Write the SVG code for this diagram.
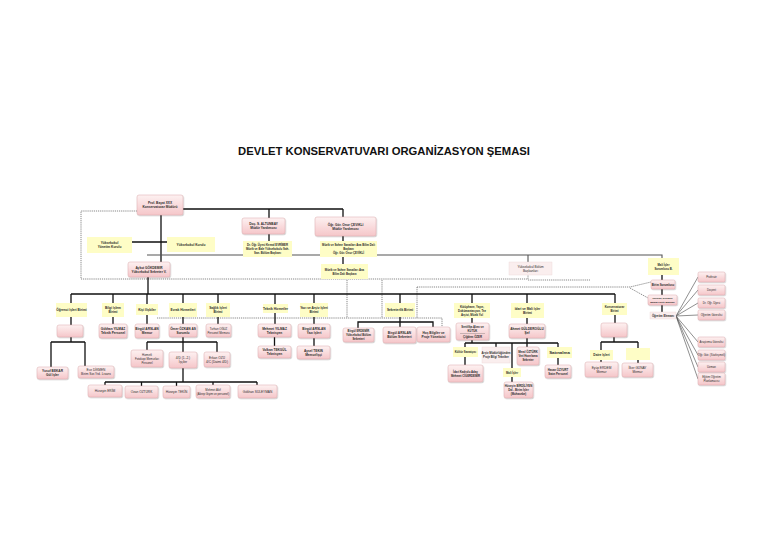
<svg xmlns="http://www.w3.org/2000/svg" width="768" height="543" viewBox="0 0 768 543">
<style>
.t{font-family:"Liberation Sans",Arial,sans-serif;font-size:3.2px;font-weight:bold;fill:#2a2a2a;text-anchor:middle}
.s{font-size:2.8px}
.p{fill:url(#pg);stroke:#dcaaad;stroke-width:0.5;filter:url(#sh)}
.y{fill:#fefdc6}
.l{fill:#faeeee;stroke:#ecd6d6;stroke-width:0.4}
.c{stroke:#111;stroke-width:1.3;fill:none}
.g{stroke:#555;stroke-width:1.1;fill:none}
.d{stroke:#555;stroke-width:0.7;stroke-dasharray:1.2 0.9;fill:none}
.f{stroke:#444;stroke-width:0.6;fill:none}
</style>
<defs>
<linearGradient id="pg" x1="0" y1="0" x2="0" y2="1"><stop offset="0" stop-color="#fdf1f1"/><stop offset="1" stop-color="#f5c6c9"/></linearGradient>
<filter id="sh" x="-10%" y="-10%" width="130%" height="140%"><feDropShadow dx="0.6" dy="0.8" stdDeviation="0.5" flood-color="#000" flood-opacity="0.25"/></filter>
</defs>
<rect width="768" height="543" fill="#fff"/>
<text x="384" y="155" font-family="'Liberation Sans',Arial,sans-serif" font-size="11" font-weight="bold" fill="#111" text-anchor="middle" textLength="292" lengthAdjust="spacingAndGlyphs">DEVLET KONSERVATUVARI ORGANİZASYON ŞEMASI</text>

<g id="connectors">
<path class="d" d="M137,211 H81 V279 H528 V275"/>
<path class="d" d="M528,280 H590"/>
<path class="d" d="M157,318 H442 V327"/>
<path class="d" d="M347,280 V318 M382,280 V318 M417,287 V318"/>
<path class="d" d="M417,287 H630 L651,282 M630,288 L648,298"/>
<path class="c" d="M183,209 H343 M269,209 V218 M343,209 V217 M269,234 V241 M343,236 V241 M343,257 V264"/>
<path class="c" d="M161,215 V262 M132,242 H167"/>
<path class="g" d="M147,255 H662 V258 M528,255 V262"/>
<path class="c" d="M662,275 V280 M662,289 V295 M662,305 V313"/>
<path class="c" d="M148,277 V294 M71,294 H615"/>
<path class="c" d="M71,294 V303 M113,294 V303 M147,294 V304 M183,294 V303 M218,294 V303 M275,294 V304 M314,294 V303 M400,294 V303 M472,294 V303 M527,294 V303 M615,294 V303"/>
<path class="c" d="M71,317 V325 M113,317 V324 M147,315 V324 M183,317 V324 M218,317 V324 M275,313 V324 M314,317 V324 M400,317 V327 M472,318 V323 M527,318 V324 M615,315 V323"/>
<path class="c" d="M71,337 V342 M51,342 H85 M51,342 V367 M85,342 V366"/>
<path class="c" d="M183,337 V342 M147,342 H217 M147,342 V350 M183,342 V352 M217,342 V352"/>
<path class="c" d="M183,368 V382 M105,382 H257 M105,382 V385 M141.5,382 V386 M176.5,382 V386 M213,382 V385 M257,382 V385"/>
<path class="c" d="M274.5,337 V346 M314,338 V346"/>
<path class="c" d="M358,328 V322 H433 V327"/>
<path class="c" d="M472,340 V343 M465,343 H558 M465,343 V347 M496,343 V347 M512,343 V368 M527,338 V347 M558,343 V347"/>
<path class="c" d="M465,357 V365 M512,377 V382 M558,358 V365"/>
<path class="c" d="M614,337 V342 M601,342 H638 M601,342 V350 M638,342 V348 M601,360 V362 M638,360 V363"/>
<path class="f" d="M676,316 L698,277 M676,316 L698,290 M676,316 L698,303 M676,316 L698,315 M676,316 L698,342 M676,316 L698,355 M676,316 L698,367 M676,316 L698,379"/>
</g>

<g id="n_mudur"><rect class="p" x="137" y="195" width="46" height="20" rx="2"/><text class="t" x="160" y="204.2">Prof. Bayat XXX</text><text class="t" x="160" y="208.2">Konservatuvar Müdürü</text></g>
<g id="n_yyk"><rect class="y" x="87" y="237" width="45" height="16"/><text class="t" x="109.5" y="244.2">Yüksekokul</text><text class="t" x="109.5" y="248.2">Yönetim Kurulu</text></g>
<g id="n_yk"><rect class="y" x="167" y="237" width="48" height="15"/><text class="t" x="191" y="245.7">Yüksekokul Kurulu</text></g>
<g id="n_sek"><rect class="p" x="128" y="262" width="42" height="15" rx="2"/><text class="t" x="149" y="268.7">Aykut GÖKDEMİR</text><text class="t" x="149" y="272.7">Yüksekokul Sekreter V.</text></g>
<g id="n_myd1"><rect class="p" x="242" y="218" width="43" height="16" rx="2"/><text class="t" x="263.5" y="225.2">Doç. S. ALTUNBAY</text><text class="t" x="263.5" y="229.2">Müdür Yardımcısı</text></g>
<g id="n_bb1"><rect class="y" x="243" y="241" width="49" height="16"/><text class="t s" x="267.5" y="246.2">Dr. Öğr. Üyesi Kemal EVRİMER</text><text class="t s" x="267.5" y="250.2">Müzik ve Bale Yüksekokulu Sah.</text><text class="t s" x="267.5" y="254.2">San. Bölüm Başkanı</text></g>
<g id="n_myd2"><rect class="p" x="315" y="217" width="61" height="19" rx="2"/><text class="t" x="345.5" y="225.7">Öğr. Gör. Onur ÇEVİKLİ</text><text class="t" x="345.5" y="229.7">Müdür Yardımcısı</text></g>
<g id="n_bb2"><rect class="y" x="320" y="241" width="57" height="16"/><text class="t s" x="348.5" y="246.2">Müzik ve Sahne Sanatları Ana Bilim Dalı</text><text class="t s" x="348.5" y="250.2">Başkanı</text><text class="t s" x="348.5" y="254.2">Öğr. Gör. Onur ÇEVİKLİ</text></g>
<g id="n_bb3"><rect class="y" x="321" y="264" width="47" height="15"/><text class="t s" x="344.5" y="270.7">Müzik ve Sahne Sanatları Ana</text><text class="t s" x="344.5" y="274.7">Bilim Dalı Başkanı</text></g>
<g id="n_bolum"><rect class="l" x="509" y="262" width="43" height="13"/><text class="t" x="530.5" y="267.7" style="font-weight:normal">Yüksekokul Bölüm</text><text class="t" x="530.5" y="271.7" style="font-weight:normal">Başkanları</text></g>
<g id="n_mali"><rect class="y" x="648" y="258" width="31" height="17"/><text class="t s" x="663.5" y="265.7">Mali İşler</text><text class="t s" x="663.5" y="269.7">Sorumlusu B.</text></g>
<g id="n_birim"><rect class="p" x="651" y="280" width="24" height="9" rx="1.5"/><text class="t s" x="663" y="285.7">Birim Sorumlusu</text></g>
<g id="n_kalite"><rect class="p" x="648" y="295" width="29" height="10" rx="1.5"/><text class="t s" x="662.5" y="299.4" style="font-size:2.4px">Kurullar, Dekanlık</text><text class="t s" x="662.5" y="302.9" style="font-size:2.4px">Bölüm Kalite Başkanı</text></g>
<g id="n_ogrel"><rect class="l" x="650" y="312" width="26" height="7"/><text class="t s" x="663" y="316.6">Öğretim Elemanı</text></g>
<g id="r1"><rect class="p" x="698" y="272" width="27" height="10" rx="1.5"/><text class="t s" x="711.5" y="278.2" style="font-weight:normal">Profesör</text></g>
<g id="r2"><rect class="p" x="698" y="285" width="27" height="10" rx="1.5"/><text class="t s" x="711.5" y="291.2" style="font-weight:normal">Doçent</text></g>
<g id="r3"><rect class="p" x="698" y="298" width="27" height="10" rx="1.5"/><text class="t s" x="711.5" y="304.2" style="font-weight:normal">Dr. Öğr. Üyesi</text></g>
<g id="r4"><rect class="p" x="698" y="310" width="27" height="10" rx="1.5"/><text class="t s" x="711.5" y="316.2" style="font-weight:normal">Öğretim Görevlisi</text></g>
<g id="r5"><rect class="p" x="698" y="337" width="27" height="10" rx="1.5"/><text class="t s" x="711.5" y="343.2" style="font-weight:normal">Araştırma Görevlisi</text></g>
<g id="r6"><rect class="p" x="698" y="350" width="27" height="10" rx="1.5"/><text class="t s" x="711.5" y="356.2" style="font-weight:normal">Öğr. Gör. (Sözleşmeli)</text></g>
<g id="r7"><rect class="p" x="698" y="362" width="27" height="10" rx="1.5"/><text class="t s" x="711.5" y="368.2" style="font-weight:normal">Uzman</text></g>
<g id="r8"><rect class="p" x="698" y="373" width="27" height="12" rx="1.5"/><text class="t s" x="711.5" y="378.2" style="font-weight:normal">Eğitim Öğretim</text><text class="t s" x="711.5" y="382.2" style="font-weight:normal">Planlamacısı</text></g>

<g id="b1"><rect class="y" x="56" y="303" width="31" height="14"/><text class="t" x="71.5" y="311.2">Öğrenci İşleri Birimi</text></g>
<g id="b2"><rect class="y" x="102" y="303" width="22" height="14"/><text class="t" x="113" y="309.2">Bilgi İşlem</text><text class="t" x="113" y="313.2">Birimi</text></g>
<g id="b3"><rect class="y" x="136" y="304" width="22" height="11"/><text class="t" x="147" y="310.7">Kişi İlişkiler</text></g>
<g id="b4"><rect class="y" x="169" y="303" width="28" height="14"/><text class="t" x="183" y="311.2">Evrak Hizmetleri</text></g>
<g id="b5"><rect class="y" x="206" y="303" width="24" height="14"/><text class="t" x="218" y="309.2">Sağlık İşleri</text><text class="t" x="218" y="313.2">Birimi</text></g>
<g id="b6"><rect class="y" x="263" y="304" width="25" height="9"/><text class="t" x="275.5" y="309.7">Teknik Hizmetler</text></g>
<g id="b7"><rect class="y" x="300" y="303" width="28" height="14"/><text class="t" x="314" y="309.2">Yazı ve Arşiv İşleri</text><text class="t" x="314" y="313.2">Birimi</text></g>
<g id="b8"><rect class="y" x="385" y="303" width="30" height="14"/><text class="t" x="400" y="311.2">Sekreterlik Birimi</text></g>
<g id="b9"><rect class="y" x="454" y="303" width="36" height="15"/><text class="t s" x="472" y="307.7">Kütüphane, Yayın,</text><text class="t s" x="472" y="311.7">Dokümantasyon, Tez</text><text class="t s" x="472" y="315.7">Arşivi, Müzik Yol</text></g>
<g id="b10"><rect class="y" x="511" y="303" width="33" height="15"/><text class="t" x="527.5" y="309.7">İdari ve Mali İşler</text><text class="t" x="527.5" y="313.7">Birimi</text></g>
<g id="b11"><rect class="y" x="602" y="303" width="25" height="12"/><text class="t s" x="614.5" y="308.2">Konservatuvar</text><text class="t s" x="614.5" y="312.2">Birimi</text></g>

<g id="c1"><rect class="p" x="57" y="325" width="26" height="12" rx="2"/></g>
<g id="c2"><rect class="p" x="99" y="324" width="28" height="14" rx="2"/><text class="t" x="113" y="330.2">Gökhan YILMAZ</text><text class="t" x="113" y="334.2">Teknik Personel</text></g>
<g id="c3"><rect class="p" x="135" y="324" width="24" height="14" rx="2"/><text class="t" x="147" y="330.2">Birgül ARSLAN</text><text class="t" x="147" y="334.2">Memur</text></g>
<g id="c4"><rect class="p" x="169" y="324" width="28" height="13" rx="2"/><text class="t" x="183" y="329.7">Ömer ÖZKAN AS</text><text class="t" x="183" y="333.7">Sorumlu</text></g>
<g id="c5"><rect class="p" x="206" y="324" width="25" height="13" rx="2"/><text class="t s" x="218.5" y="329.7" style="font-weight:normal">Turhan OĞUZ</text><text class="t s" x="218.5" y="333.7" style="font-weight:normal">Personel Memuru</text></g>
<g id="c6"><rect class="p" x="258" y="324" width="33" height="13" rx="2"/><text class="t" x="274.5" y="329.7">Mehmet YILMAZ</text><text class="t" x="274.5" y="333.7">Teknisyen</text></g>
<g id="c7"><rect class="p" x="298" y="324" width="32" height="14" rx="2"/><text class="t" x="314" y="330.2">Birgül ARSLAN</text><text class="t" x="314" y="334.2">Yazı İşleri</text></g>
<g id="c8"><rect class="p" x="343" y="328" width="31" height="14" rx="2"/><text class="t s" x="358.5" y="332.2">Birgül ERDEMİR</text><text class="t s" x="358.5" y="336.2">Yüksekokul Bölüm</text><text class="t s" x="358.5" y="340.2">Sekreteri</text></g>
<g id="c9"><rect class="p" x="383" y="327" width="33" height="16" rx="2"/><text class="t" x="399.5" y="334.2">Birgül ARSLAN</text><text class="t" x="399.5" y="338.2">Bölüm Sekreteri</text></g>
<g id="c10"><rect class="p" x="417" y="327" width="33" height="15" rx="2"/><text class="t" x="433.5" y="333.7">Hoş Bilgiler ve</text><text class="t" x="433.5" y="337.7">Proje Yöneticisi</text></g>
<g id="c11"><rect class="p" x="456" y="323" width="33" height="17" rx="2"/><text class="t s" x="472.5" y="327.7">Sertifika Alımı ve</text><text class="t s" x="472.5" y="331.7">KÜTÜK</text><path d="M460,333.5 H485" stroke="#555" stroke-width="0.3"/><text class="t s" x="472.5" y="337.7">Çiğdem ÖZER</text></g>
<g id="c12"><rect class="p" x="509" y="324" width="36" height="14" rx="2"/><text class="t" x="527" y="330.2">Ahmet GÜLDEROĞLU</text><text class="t" x="527" y="334.2">Şef</text></g>
<g id="c13"><rect class="p" x="601" y="323" width="26" height="14" rx="2"/></g>

<g id="d1"><rect class="p" x="37" y="367" width="31" height="12" rx="2"/><text class="t" x="52.5" y="372.2">Yusuf BEKAR</text><text class="t" x="52.5" y="376.2">Gül İşler</text></g>
<g id="d2"><rect class="p" x="78" y="366" width="36" height="12" rx="2"/><text class="t" x="96" y="371.2" style="font-weight:normal">Ece DİKMEN</text><text class="t" x="96" y="375.2" style="font-weight:normal">Birim Sor.Yrd. Lisans</text></g>
<g id="d3"><rect class="p" x="131" y="350" width="32" height="17" rx="2"/><text class="t s" x="147" y="355.7" style="font-weight:normal">Hizmetli</text><text class="t s" x="147" y="359.7" style="font-weight:normal">Fotokopi Memurları</text><text class="t s" x="147" y="363.7" style="font-weight:normal">Personel</text></g>
<g id="d4"><rect class="p" x="169" y="352" width="28" height="16" rx="2"/><text class="t" x="183" y="359.2" style="font-weight:normal">4/D (1.-2.)</text><text class="t" x="183" y="363.2" style="font-weight:normal">İşçiler</text></g>
<g id="d5"><rect class="p" x="204" y="352" width="26" height="15" rx="2"/><text class="t" x="217" y="358.7" style="font-weight:normal">Erkan ÖZÜ</text><text class="t" x="217" y="362.7" style="font-weight:normal">4/C (Daimi 4/D)</text></g>
<g id="d6"><rect class="p" x="258" y="346" width="33" height="12" rx="2"/><text class="t" x="274.5" y="351.2">Volkan TEKGÜL</text><text class="t" x="274.5" y="355.2">Teknisyen</text></g>
<g id="d7"><rect class="p" x="297" y="346" width="33" height="13" rx="2"/><text class="t" x="313.5" y="351.7">Aysel TEKİN</text><text class="t" x="313.5" y="355.7">Memur/İşçi</text></g>
<g id="e1"><rect class="y" x="453" y="347" width="25" height="10"/><text class="t s" x="465.5" y="353.2">Kültür Sanatçısı</text></g>
<g id="e2"><rect class="l" x="482" y="347" width="28" height="16"/><text class="t s" x="496" y="354.2">Arşiv Müdürlüğünden</text><text class="t s" x="496" y="358.2">Proje Bilgi Tekniker</text></g>
<g id="e3"><rect class="y" x="503" y="368" width="18" height="9"/><text class="t s" x="512" y="373.7">Mali İşler</text></g>
<g id="e4"><rect class="p" x="517" y="347" width="22" height="18" rx="2"/><text class="t s" x="528" y="353.2">Meral ÖZTÜRK</text><text class="t s" x="528" y="357.2">Veri Hazırlama</text><text class="t s" x="528" y="361.2">Sekreter</text></g>
<g id="e5"><rect class="y" x="547" y="347" width="25" height="11"/><text class="t" x="559.5" y="354" style="font-size:4.4px">Satınalma</text></g>
<g id="e6"><rect class="p" x="448" y="365" width="35" height="17" rx="2"/><text class="t s" x="465.5" y="372.7">İdari Kadrolu Aday</text><text class="t s" x="465.5" y="376.7">Mehmet CİĞERDEMİR</text></g>
<g id="e7"><rect class="p" x="504" y="382" width="29" height="16" rx="2"/><text class="t s" x="518.5" y="387.2">Hüseyin BİRDİLİYEN</text><text class="t s" x="518.5" y="391.2">Dal - Birim İşler</text><text class="t s" x="518.5" y="395.2">(Muhasebe)</text></g>
<g id="e8"><rect class="p" x="545" y="365" width="26" height="13" rx="2"/><text class="t s" x="558" y="370.7">Hasan ÖZYURT</text><text class="t s" x="558" y="374.7">Satın Personel</text></g>
<g id="f1"><rect class="y" x="590" y="350" width="23" height="10"/><text class="t" x="601.5" y="356.2">Daire İşleri</text></g>
<g id="f2"><rect class="y" x="626" y="348" width="24" height="12"/></g>
<g id="f3"><rect class="p" x="585" y="362" width="33" height="15" rx="2"/><text class="t" x="601.5" y="368.7" style="font-weight:normal">Eyüp ERDEM</text><text class="t" x="601.5" y="372.7" style="font-weight:normal">Memur</text></g>
<g id="f4"><rect class="p" x="622" y="363" width="31" height="14" rx="2"/><text class="t" x="637.5" y="369.2" style="font-weight:normal">İlker GÜNAY</text><text class="t" x="637.5" y="373.2" style="font-weight:normal">Memur</text></g>
<g id="g1"><rect class="p" x="88" y="385" width="34" height="12" rx="2"/><text class="t" x="105" y="392.2" style="font-weight:normal">Hüseyin ERİM</text></g>
<g id="g2"><rect class="p" x="125" y="386" width="33" height="12" rx="2"/><text class="t" x="141.5" y="393.2" style="font-weight:normal">Ozan ÖZTÜRK</text></g>
<g id="g3"><rect class="p" x="163" y="386" width="27" height="12" rx="2"/><text class="t" x="176.5" y="393.2" style="font-weight:normal">Hüseyin TEKİN</text></g>
<g id="g4"><rect class="p" x="196" y="385" width="34" height="13" rx="2"/><text class="t s" x="213" y="390.7" style="font-weight:normal">Mehmet Akif</text><text class="t s" x="213" y="394.7" style="font-weight:normal">(Akrep Giyim ve personel)</text></g>
<g id="g5"><rect class="p" x="238" y="385" width="39" height="13" rx="2"/><text class="t" x="257.5" y="392.7" style="font-weight:normal">Gökhan SÜLEYMAN</text></g>
</svg>
